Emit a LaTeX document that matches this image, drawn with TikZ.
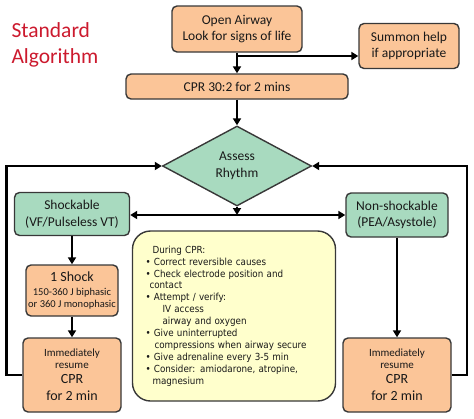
\documentclass[tikz,border=0pt]{standalone}
\usepackage{fontspec}
\setmainfont{Carlito}
\newfontfamily\listfont{DejaVu Sans Condensed}
\usetikzlibrary{shapes.geometric,arrows.meta}
\definecolor{boxorange}{HTML}{FBC598}
\definecolor{boxgreen}{HTML}{A8DABF}
\definecolor{boxyellow}{HTML}{FFFFCC}
\definecolor{boxline}{HTML}{383838}
\definecolor{titlered}{HTML}{CC1A2E}
\begin{document}
\begin{tikzpicture}[x=1pt,y=-1pt,
 box/.style={draw=boxline,line width=1.4pt,rounded corners=5pt,align=center,inner sep=0pt,text=black!90,font=\fontsize{13.5}{16.5}\selectfont},
 orangebox/.style={box,fill=boxorange},
 greenbox/.style={box,fill=boxgreen},
 infobox/.style={box,fill=boxyellow,rounded corners=18pt,align=left,inner xsep=13pt,font=\listfont\fontsize{9.75}{11.9}\selectfont},
 flow/.style={line width=2.4pt,-{Triangle[length=7pt,width=8pt]}}]
 \useasboundingbox (0,0) rectangle (474,418);
 \node[anchor=west,align=left,text=titlered,font=\fontsize{21.5}{26}\selectfont] (title) at (8,45) {Standard\\Algorithm};
 \node[orangebox,minimum width=130pt,minimum height=46pt] (airway) at (237,29) {Open Airway\\Look for signs of life};
 \node[orangebox,minimum width=100pt,minimum height=45pt] (summon) at (409,46) {Summon help\\if appropriate};
 \node[orangebox,minimum width=222pt,minimum height=25pt] (cpr) at (237,86.5) {CPR 30:2 for 2 mins};
 \node[box,fill=boxgreen,shape=diamond,aspect=1.8,rounded corners=0pt,minimum width=149pt,minimum height=80pt] (assess) at (237,166) {Assess\\Rhythm};
 \node[greenbox,minimum width=115pt,minimum height=43pt] (shock) at (72,214) {Shockable\\(VF/Pulseless VT)};
 \node[greenbox,minimum width=102pt,minimum height=44pt] (nonshock) at (397,215) {Non-shockable\\(PEA/Asystole)};
 \node[orangebox,minimum width=92pt,minimum height=51pt,font=\fontsize{10.5}{12}\selectfont] (oneshock) at (72,290.5) {{\fontsize{14}{14}\selectfont 1 Shock}\\[2pt]150-360 J biphasic\\or 360 J monophasic};
 \node[orangebox,minimum width=98pt,minimum height=74pt,font=\fontsize{11}{12}\selectfont] (resumeL) at (72,375) {Immediately\\resume\\[3pt]{\fontsize{14}{14}\selectfont CPR}\\[5pt]{\fontsize{14}{14}\selectfont for 2 min}};
 \node[orangebox,minimum width=108pt,minimum height=74pt,font=\fontsize{11}{12}\selectfont] (resumeR) at (397,375) {Immediately\\resume\\[3pt]{\fontsize{14}{14}\selectfont CPR}\\[5pt]{\fontsize{14}{14}\selectfont for 2 min}};
 \node[infobox,text width=177pt,minimum height=170pt] (during) at (234,316) {\hspace*{7pt}During CPR:\\
 \textbullet\ Correct reversible causes\\
 \textbullet\ Check electrode position and\\
 \hspace*{4pt}contact\\
 \textbullet\ Attempt / verify:\\
 \hspace*{17pt}IV access\\
 \hspace*{17pt}airway and oxygen\\
 \textbullet\ Give uninterrupted\\
 \hspace*{9pt}compressions when airway secure\\
 \textbullet\ Give adrenaline every 3-5 min\\
 \textbullet\ Consider: amiodarone, atropine,\\
 \hspace*{7pt}magnesium};
 \coordinate (split) at (237,56);
 \coordinate (fork) at (237,215);
 \draw[flow] (airway.south) -- (cpr.north);
 \draw[flow] (split) -- (split -| summon.west);
 \draw[flow] (cpr.south) -- (assess.north);
 \draw[flow] (assess.south) -- (fork);
 \draw[flow] (fork) -- (fork -| shock.east);
 \draw[flow] (fork) -- (fork -| nonshock.west);
 \draw[flow] (shock.south) -- (oneshock.north);
 \draw[flow] (oneshock.south) -- (resumeL.north);
 \draw[flow] (nonshock.south) -- (resumeR.north);
 \draw[flow] (resumeL.west) -- ++(-16,0) |- (assess.west);
 \draw[flow] (resumeR.east) -- ++(15,0) |- (assess.east);
\end{tikzpicture}
\end{document}
